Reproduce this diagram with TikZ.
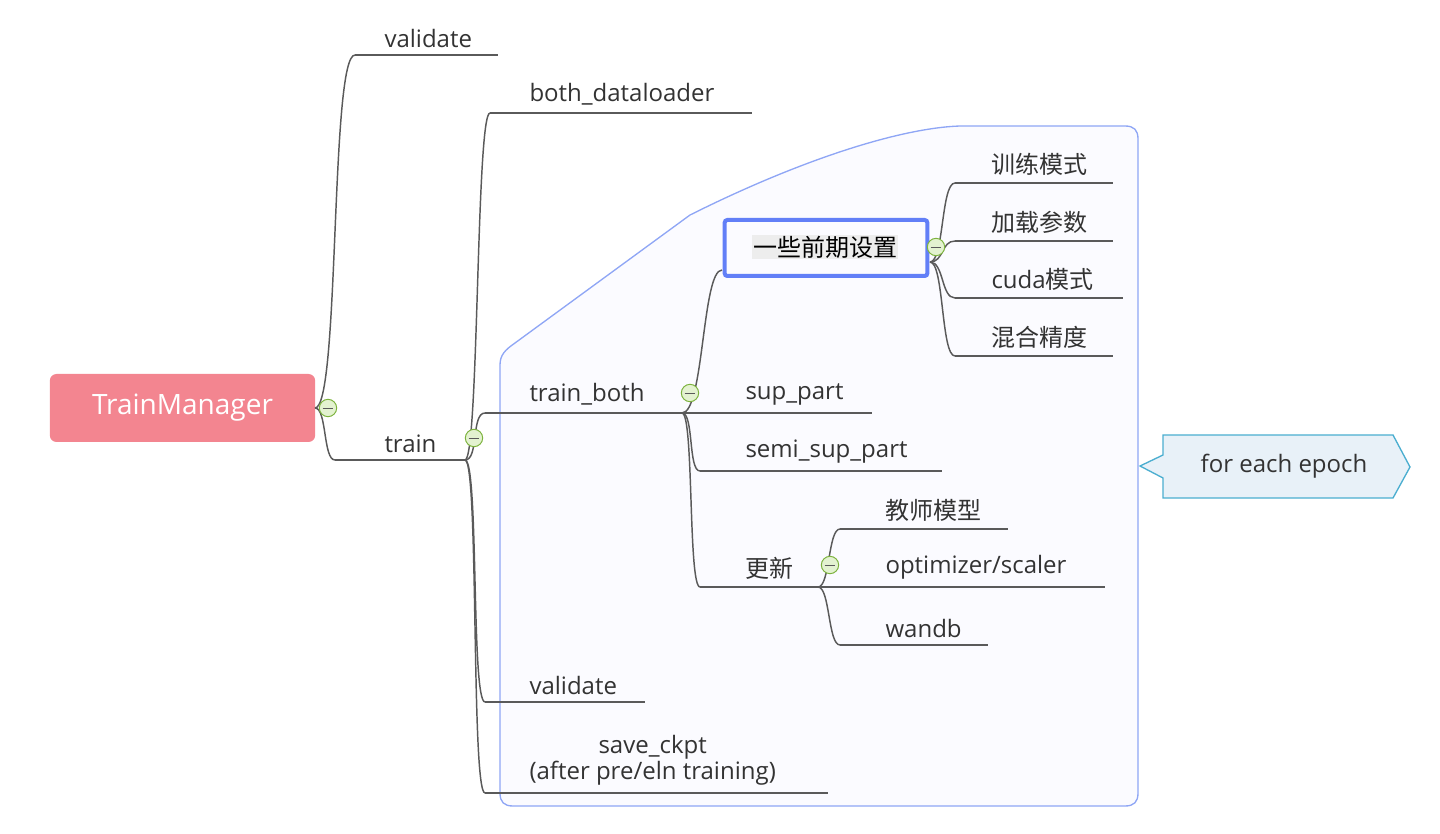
\documentclass[tikz,border=0pt]{standalone}
\usepackage{fontspec}
\setmainfont{Open Sans}
\newfontfamily\cjk{Noto Sans CJK SC}
\usetikzlibrary{positioning}
\definecolor{linegray}{RGB}{90,90,90}
\definecolor{framblue}{RGB}{143,166,245}
\definecolor{rootpink}{RGB}{243,133,144}
\definecolor{selblue}{RGB}{98,127,247}
\definecolor{callfill}{RGB}{232,241,248}
\definecolor{calldraw}{RGB}{75,174,208}
\tikzset{every picture/.style={line width=0.75pt},
  lbl/.style={anchor=south west,inner sep=0.75pt,font=\fontsize{18}{20}\selectfont,text=black!80},
  uline/.style={draw=linegray,line width=1.1pt},
  conn/.style={draw=linegray,line width=1.1pt},
  fold/.style={circle,draw={rgb,255:red,125;green,179;blue,62},fill={rgb,255:red,227;green,242;blue,208},minimum size=13pt,inner sep=0pt,path picture={\draw[linegray,line width=0.6pt] ([xshift=-4pt]path picture bounding box.center) -- ([xshift=4pt]path picture bounding box.center);}}}

\begin{document}
\begin{tikzpicture}[x=0.75pt,y=0.75pt,yscale=-1,xscale=1]
    \useasboundingbox (0,0) rectangle (1440,834);

    % epoch frame
    \draw [framblue,fill={rgb,255:red,251;green,251;blue,255},line width=1pt] (500,365) .. controls (500,355) and (505,350) .. (515,343) -- (690,215) .. controls (800,160) and (900,128) .. (960,126) -- (1125,126) .. controls (1134,126) and (1138,130) .. (1138,139) -- (1138,793) .. controls (1138,802) and (1134,806) .. (1125,806) -- (513,806) .. controls (504,806) and (500,802) .. (500,793) -- cycle;

    % callout
    \draw [calldraw,fill=callfill,line width=1pt] (1163,435) -- (1393,435) -- (1410,467) -- (1393,498) -- (1163,498) -- (1163,478) -- (1140,466) -- (1163,455) -- cycle;
    \node (epoch) at (1284,466) [font=\fontsize{18}{20}\selectfont,text=black!80] {for each epoch};

    % root
    \node (root) [fill=rootpink,rounded corners=5pt,minimum width=199pt,minimum height=51pt,text=white,font=\fontsize{21}{24}\selectfont] at (182.5,408) {TrainManager};
    \coordinate (rootR) at (315,408);

    % first level
    \coordinate (valA) at (355,55);   \coordinate (valB) at (498,55);
    \node (val) [lbl] at (383,49) {validate};
    \coordinate (trA) at (335,460);   \coordinate (trB) at (465,460);
    \node (tr) [lbl] at (383,454) {train};
    \draw [uline] (valA) -- (valB);
    \draw [uline] (trA) -- (trB);
    \draw [conn] (rootR) .. controls +(25,0) and +(-25,0) .. (valA);
    \draw [conn] (rootR) .. controls +(12,0) and +(-12,0) .. (trA);

    % train children
    \coordinate (dlA) at (490,113);   \coordinate (dlB) at (752,113);
    \node (dl) [lbl] at (528,107) {both\_dataloader};
    \coordinate (tbA) at (485,413);   \coordinate (tbB) at (682,413);
    \node (tb) [lbl] at (528,407) {train\_both};
    \coordinate (vlA) at (485,702);   \coordinate (vlB) at (645,702);
    \node (vl) [lbl] at (528,696) {validate};
    \coordinate (skA) at (485,793);   \coordinate (skB) at (828,793);
    \node (sk) [lbl,align=center] at (528,787) {save\_ckpt\\(after pre/eln training)};
    \foreach \a/\b in {dlA/dlB,tbA/tbB,vlA/vlB,skA/skB} \draw [uline] (\a) -- (\b);
    \foreach \c in {dlA,tbA,vlA,skA} \draw [conn] (trB) .. controls +(14,0) and +(-14,0) .. (\c);

    % train_both children
    \node (pre) [draw=selblue,line width=3pt,rounded corners=2pt,minimum width=152pt,minimum height=42pt] at (826,248) {};
    \node (preT) [fill=black!7,inner sep=1pt,font=\fontsize{18}{20}\cjk\selectfont] at (825,247) {一些前期设置};
    \coordinate (preB) at (930,262);
    \coordinate (spA) at (700,413);   \coordinate (spB) at (872,413);
    \node (sp) [lbl] at (744,407) {sup\_part};
    \coordinate (ssA) at (700,471);   \coordinate (ssB) at (942,471);
    \node (ss) [lbl] at (744,465) {semi\_sup\_part};
    \coordinate (upA) at (700,587);   \coordinate (upB) at (818,587);
    \node (up) [lbl,font=\fontsize{18}{20}\cjk\selectfont] at (744,581) {更新};
    \foreach \a/\b in {spA/spB,ssA/ssB,upA/upB} \draw [uline] (\a) -- (\b);
    \draw [conn] (tbB) .. controls +(22,0) and +(-20,0) .. (722,270);
    \foreach \c in {spA,ssA,upA} \draw [conn] (tbB) .. controls +(12,0) and +(-12,0) .. (\c);

    % setup children
    \coordinate (s1A) at (955,183);   \coordinate (s1B) at (1113,183);
    \node (s1) [lbl,font=\fontsize{18}{20}\cjk\selectfont] at (990,177) {训练模式};
    \coordinate (s2A) at (955,241);   \coordinate (s2B) at (1113,241);
    \node (s2) [lbl,font=\fontsize{18}{20}\cjk\selectfont] at (990,235) {加载参数};
    \coordinate (s3A) at (955,298);   \coordinate (s3B) at (1123,298);
    \node (s3) [lbl] at (990,292) {cuda{\cjk 模式}};
    \coordinate (s4A) at (955,356);   \coordinate (s4B) at (1113,356);
    \node (s4) [lbl,font=\fontsize{18}{20}\cjk\selectfont] at (990,350) {混合精度};
    \foreach \a/\b in {s1A/s1B,s2A/s2B,s3A/s3B,s4A/s4B} \draw [uline] (\a) -- (\b);
    \foreach \c in {s1A,s2A,s3A,s4A} \draw [conn] (preB) .. controls +(14,0) and +(-14,0) .. (\c);

    % update children
    \coordinate (u1A) at (840,529);   \coordinate (u1B) at (1008,529);
    \node (u1) [lbl,font=\fontsize{18}{20}\cjk\selectfont] at (884,523) {教师模型};
    \coordinate (u2A) at (840,587);   \coordinate (u2B) at (1105,587);
    \node (u2) [lbl] at (884,581) {optimizer/scaler};
    \coordinate (u3A) at (840,645);   \coordinate (u3B) at (988,645);
    \node (u3) [lbl] at (884,639) {wandb};
    \foreach \a/\b in {u1A/u1B,u2A/u2B,u3A/u3B} \draw [uline] (\a) -- (\b);
    \foreach \c in {u1A,u2A,u3A} \draw [conn] (upB) .. controls +(12,0) and +(-12,0) .. (\c);

    % fold markers
    \node [fold] at (328,408) {};
    \node [fold] at (474,438) {};
    \node [fold] at (690,393) {};
    \node [fold] at (936,247) {};
    \node [fold] at (830,565) {};
\end{tikzpicture}
\end{document}
